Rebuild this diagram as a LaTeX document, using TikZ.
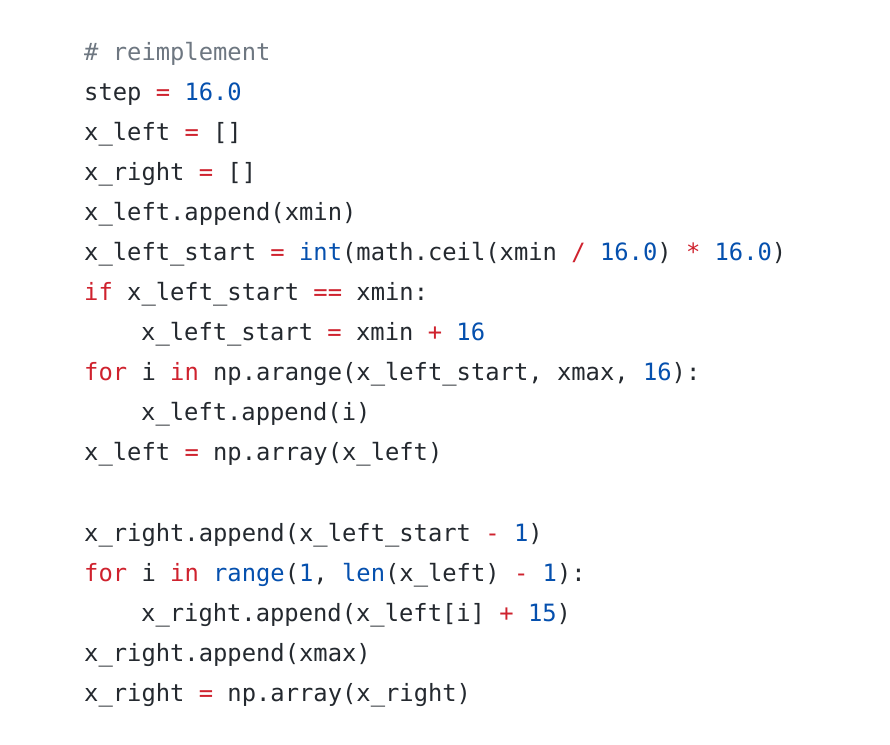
\documentclass[tikz,border=0pt]{standalone}
\usepackage{fontspec}
\setmonofont{DejaVu Sans Mono}
\definecolor{codetext}{HTML}{24292F}
\definecolor{codekw}{HTML}{CF222E}
\definecolor{codenum}{HTML}{0550AE}
\definecolor{codecom}{HTML}{6E7781}
\newcommand{\kw}[1]{\textcolor{codekw}{#1}}
\newcommand{\nm}[1]{\textcolor{codenum}{#1}}
\newcommand{\cm}[1]{\textcolor{codecom}{#1}}
\begin{document}
\begin{tikzpicture}[x=1pt,y=1pt,
  codeline/.style={inner sep=0pt, anchor=base west, text=codetext,
    font=\ttfamily\fontsize{23.8}{28}\selectfont}]
			\useasboundingbox (0,0) rectangle (890,744);
			\fill[white] (0,0) rectangle (890,744);

			\node[codeline] (l1) at (84, 683) {\cm{\# reimplement}};
			\node[codeline] (l2) at (84, 643) {step \kw{=} \nm{16.0}};
			\node[codeline] (l3) at (84, 603) {x\_left \kw{=} []};
			\node[codeline] (l4) at (84, 563) {x\_right \kw{=} []};
			\node[codeline] (l5) at (84, 523) {x\_left.append(xmin)};
			\node[codeline] (l6) at (84, 483) {x\_left\_start \kw{=} \nm{int}(math.ceil(xmin \kw{/} \nm{16.0}) \kw{*} \nm{16.0})};
			\node[codeline] (l7) at (84, 443) {\kw{if} x\_left\_start \kw{==} xmin:};
			\node[codeline] (l8) at (141, 403) {x\_left\_start \kw{=} xmin \kw{+} \nm{16}};
			\node[codeline] (l9) at (84, 363) {\kw{for} i \kw{in} np.arange(x\_left\_start, xmax, \nm{16}):};
			\node[codeline] (l10) at (141, 323) {x\_left.append(i)};
			\node[codeline] (l11) at (84, 283) {x\_left \kw{=} np.array(x\_left)};

			\node[codeline] (l12) at (84, 203) {x\_right.append(x\_left\_start \kw{-} \nm{1})};
			\node[codeline] (l13) at (84, 163) {\kw{for} i \kw{in} \nm{range}(\nm{1}, \nm{len}(x\_left) \kw{-} \nm{1}):};
			\node[codeline] (l14) at (141, 123) {x\_right.append(x\_left[i] \kw{+} \nm{15})};
			\node[codeline] (l15) at (84, 83) {x\_right.append(xmax)};
			\node[codeline] (l16) at (84, 43) {x\_right \kw{=} np.array(x\_right)};
		\end{tikzpicture}
\end{document}
